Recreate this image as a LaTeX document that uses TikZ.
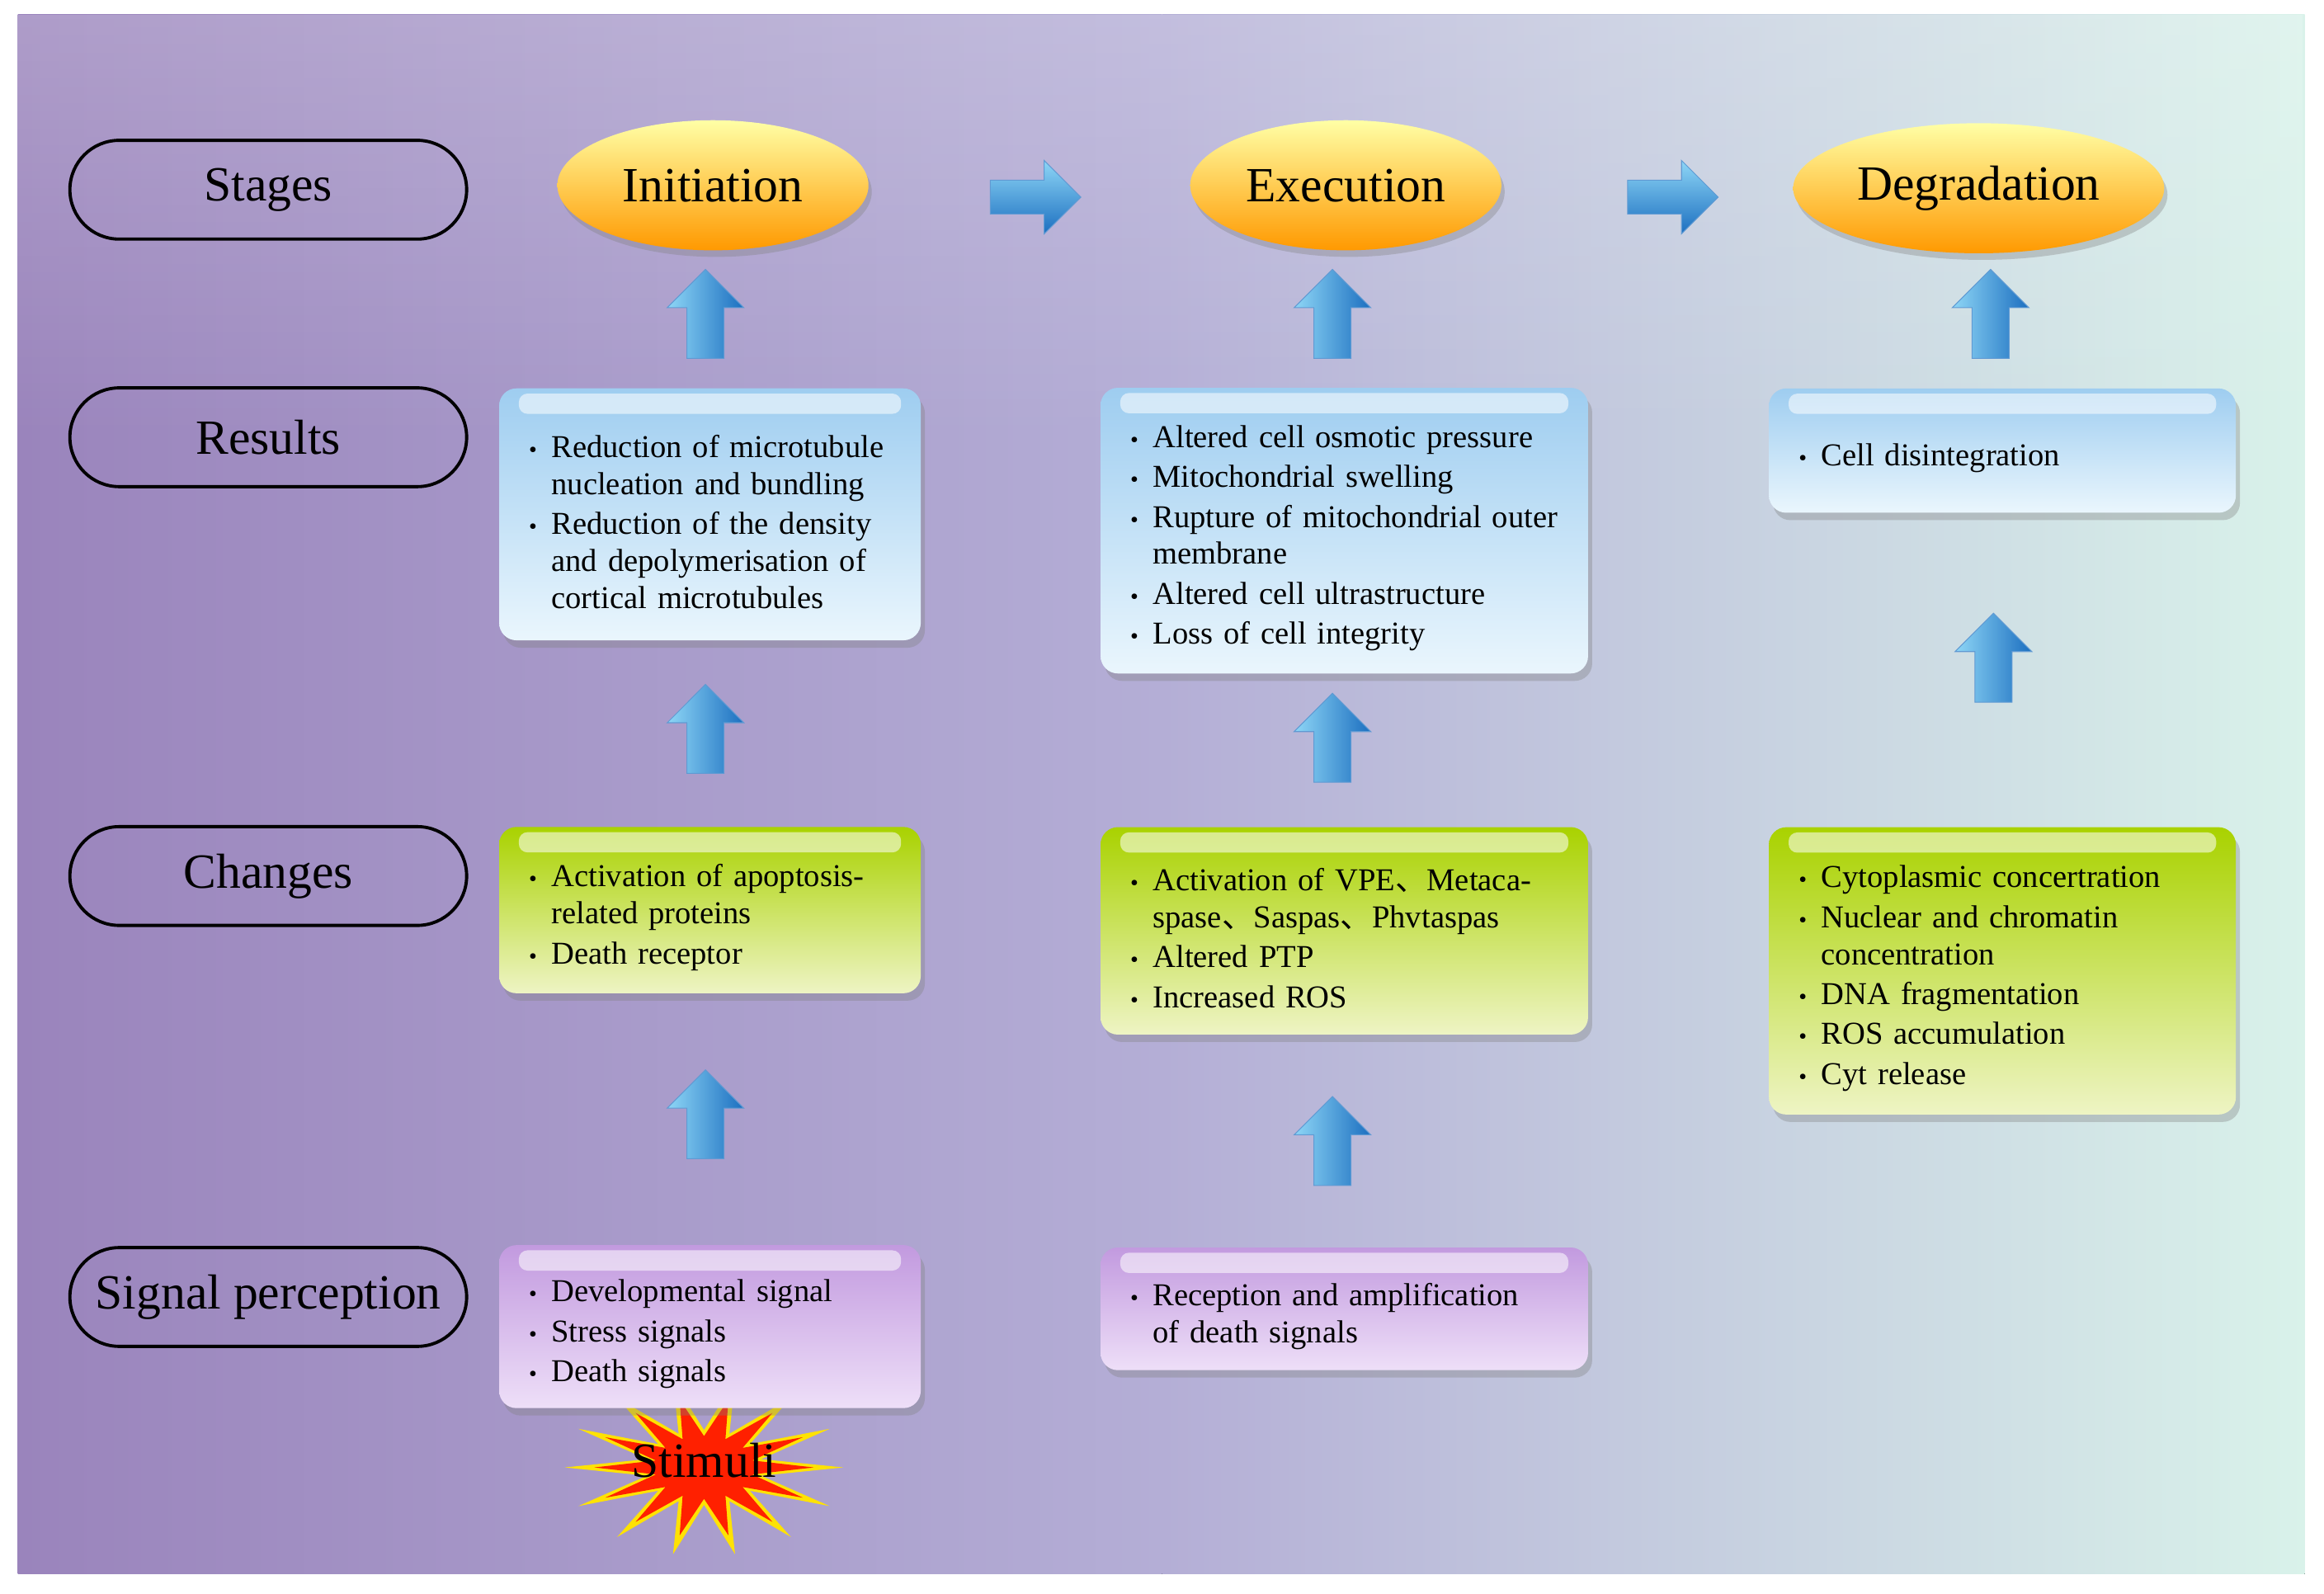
\documentclass[tikz,border=0pt]{standalone}
\usepackage{fontspec}
\setmainfont{Liberation Serif}
\newfontfamily\cjk{Noto Sans CJK SC}
\usepackage{enumitem}
\usetikzlibrary{shapes.geometric,shapes.arrows,shadows,fadings}
\definecolor{bgl}{HTML}{9A84BC}
\definecolor{bgm}{HTML}{B4AED6}
\definecolor{bgr}{HTML}{D9F2EA}
\definecolor{blueT}{HTML}{9ECDF0}
\definecolor{blueB}{HTML}{EAF6FD}
\definecolor{greenT}{HTML}{A9D200}
\definecolor{greenB}{HTML}{EEF4C4}
\definecolor{purT}{HTML}{C29ADF}
\definecolor{purB}{HTML}{EEDFF8}
\definecolor{arrD}{HTML}{1C6FC0}
\definecolor{arrL}{HTML}{8ED6F6}
\newcommand{\boxlist}[1]{\begin{itemize}[leftmargin=1.1em,label={\footnotesize\textbullet},itemsep=1pt,topsep=0pt,parsep=0pt,partopsep=0pt]#1\end{itemize}}
\tikzset{
  pill/.style={draw=black, line width=1.1pt, rounded corners=0.6cm, minimum width=4.82cm, minimum height=1.2cm, font=\fontsize{17}{20}\selectfont},
  stage/.style={ellipse, top color=yellow!35, bottom color=orange!80!yellow, minimum width=3.78cm, minimum height=1.58cm, font=\fontsize{17}{20}\selectfont,
    drop shadow={opacity=.35, shadow xshift=.04cm, shadow yshift=-.08cm}},
  panel/.style={rounded corners=6pt, inner sep=6pt, font=\fontsize{11}{12.8}\selectfont,
    drop shadow={opacity=.35, shadow xshift=.05cm, shadow yshift=-.09cm}},
  res/.style={panel, top color=blueT, bottom color=blueB},
  chg/.style={panel, top color=greenT, bottom color=greenB},
  sig/.style={panel, top color=purT, bottom color=purB},
  uparr/.style={single arrow, shape border rotate=90, inner sep=0.22cm, single arrow head extend=0.24cm, minimum height=1.08cm,
    left color=arrL, right color=arrD, draw=arrD!70, line width=0.3pt},
  rtarr/.style={single arrow, inner sep=0.2cm, single arrow head extend=0.24cm, minimum height=1.1cm,
    top color=arrL, bottom color=arrD, draw=arrD!70, line width=0.3pt},
}
\begin{document}
\begin{tikzpicture}[x=0.018cm, y=-0.018cm]
\useasboundingbox (0,0) rectangle (1568,1075);
% background
\fill[left color=bgl, right color=bgm] (12,10) rectangle (784,1062);
\fill[left color=bgm, right color=bgr] (784,10) rectangle (1555,1062);
\fill[white, opacity=.2, path fading=south] (12,10) rectangle (1555,300);

% row labels
\node[pill] (lstages) at (181,128) {Stages};
\node[pill] (lresults) at (181,295) {Results};
\node[pill] (lchanges) at (181,591) {Changes};
\node[pill] (lsignal) at (181,875) {Signal perception};

% stages
\node[stage] (init) at (481,125) {Initiation};
\node[stage] (exec) at (908,125) {Execution};
\node[stage] (degr) at (1335,127) {Degradation};
\node[rtarr] (ra1) at (693,133) {};
\node[rtarr] (ra2) at (1123,133) {};

% stimuli burst
\fill[yellow!85!orange] (569,990) \foreach \i [evaluate=\i as \r using {ifthenelse(mod(\i,2)==0,1,0.42)}] in {1,...,27} { -- ({475+94*\r*cos(\i*360/28)},{990+60*\r*sin(\i*360/28)}) } -- cycle;
\fill[red!75!orange] (549,990) \foreach \i [evaluate=\i as \r using {ifthenelse(mod(\i,2)==0,1,0.45)}] in {1,...,27} { -- ({475+74*\r*cos(\i*360/28)},{990+47*\r*sin(\i*360/28)}) } -- cycle;

% column 1
\node[res, minimum width=5.08cm, minimum height=3.06cm, text width=4.7cm] (r1) at (479,347) {\boxlist{
  \item Reduction of microtubule nucleation and bundling
  \item Reduction of the density and depolymerisation of cortical microtubules}};
\node[chg, minimum width=5.08cm, minimum height=2.02cm, text width=4.7cm] (g1) at (479,614) {\boxlist{
  \item Activation of apoptosis-\newline related proteins
  \item Death receptor}};
\node[sig, minimum width=5.08cm, minimum height=1.98cm, text width=4.7cm] (s1) at (479,895) {\boxlist{
  \item Developmental signal
  \item Stress signals
  \item Death signals}};
\node[font=\fontsize{17}{20}\selectfont] (stim) at (475,985) {Stimuli};

% column 2
\node[res, minimum width=5.85cm, minimum height=3.47cm, text width=5.5cm] (r2) at (907,358) {\boxlist{
  \item Altered cell osmotic pressure
  \item Mitochondrial swelling
  \item Rupture of mitochondrial outer membrane
  \item Altered cell ultrastructure
  \item Loss of cell integrity}};
\node[chg, minimum width=5.85cm, minimum height=2.52cm, text width=5.5cm] (g2) at (907,628) {\boxlist{
  \item Activation of VPE{\cjk 、}Metaca-\newline spase{\cjk 、}Saspas{\cjk 、}Phvtaspas
  \item Altered PTP
  \item Increased ROS}};
\node[sig, minimum width=5.85cm, minimum height=1.49cm, text width=5.5cm] (s2) at (907,883) {\boxlist{
  \item Reception and amplification\newline of death signals}};

% column 3
\node[res, minimum width=5.62cm, minimum height=1.51cm, text width=5.25cm] (r3) at (1351,304) {\boxlist{
  \item Cell disintegration}};
\node[chg, minimum width=5.62cm, minimum height=3.49cm, text width=5.25cm] (g3) at (1351,655) {\boxlist{
  \item Cytoplasmic concertration
  \item Nuclear and chromatin concentration
  \item DNA fragmentation
  \item ROS accumulation
  \item Cyt release}};

% glossy strips
\foreach \b in {r1,r2,r3,g1,g2,g3,s1,s2} {
  \fill[white, opacity=.55, rounded corners=3pt] ([xshift=7pt,yshift=-2pt]\b.north west) rectangle ([xshift=-7pt,yshift=-9pt]\b.north east);
}

% up arrows
\node[uparr] (u11) at (476,218) {};
\node[uparr] (u12) at (476,498) {};
\node[uparr] (u13) at (476,758) {};
\node[uparr] (u21) at (899,218) {};
\node[uparr] (u22) at (899,504) {};
\node[uparr] (u23) at (899,776) {};
\node[uparr] (u31) at (1343,218) {};
\node[uparr] (u32) at (1345,450) {};
\end{tikzpicture}
\end{document}
